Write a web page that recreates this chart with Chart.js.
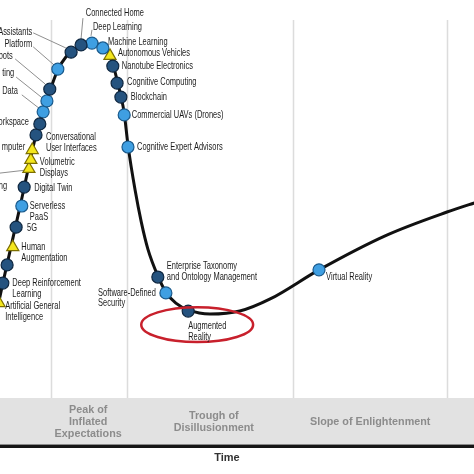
<!DOCTYPE html>
<html><head><meta charset="utf-8">
<script src="https://cdn.jsdelivr.net/npm/chart.js@4/dist/chart.umd.min.js"></script>
<style>html,body{margin:0;padding:0;background:#fff;}canvas{display:block;}</style>
</head><body>
<canvas id="c" width="474" height="474"></canvas>
<script>
// ---- Hype curve (time % vs expectations %) ----
const curveTime   = [-0.8, 0.6, 4.2, 7.6, 9.1, 10.6, 12.2, 13.9, 15.8, 17.7, 19.6, 21.5, 22.8, 23.8, 24.7, 25.5, 26.2, 27.0, 28.5, 29.8, 31.2, 33.3, 35.0, 37.1, 39.7, 44.3, 50.6, 57.0, 67.3, 81.6, 94.3, 101.3];
const curveExpect = [22.2, 30.4, 50.5, 69.6, 75.9, 81.5, 86.8, 90.2, 92.3, 93.7, 93.9, 93.1, 91.5, 88.4, 84.1, 79.9, 75.4, 66.9, 55.0, 46.6, 39.4, 32.3, 28.0, 25.1, 23.3, 22.2, 23.0, 26.2, 33.9, 43.1, 49.2, 52.1];

// ---- Technologies (dark = one group, light = another, triangles = third) ----
const darkNames  = ["Deep Reinforcement Learning", "(unlabeled)", "5G", "Digital Twin", "Conversational User Interfaces", "Workspace", "bots", "Assistants", "Connected Home", "Nanotube Electronics", "Cognitive Computing", "Blockchain", "Enterprise Taxonomy and Ontology Management", "Augmented Reality"];
const darkTime   = [0.6, 1.5, 3.4, 5.1, 7.6, 8.4, 10.5, 15.0, 17.1, 23.8, 24.7, 25.5, 33.3, 39.7];
const darkExpect = [30.4, 35.2, 45.2, 55.8, 69.6, 72.5, 81.7, 91.5, 93.4, 87.8, 83.3, 79.6, 32.0, 23.0];

const lightNames  = ["Serverless PaaS", "Data", "ting", "Platform", "Deep Learning", "Machine Learning", "Commercial UAVs (Drones)", "Cognitive Expert Advisors", "Software-Defined Security", "Virtual Reality"];
const lightTime   = [4.6, 9.1, 9.9, 12.2, 19.4, 21.7, 26.2, 27.0, 35.0, 67.3];
const lightExpect = [50.8, 75.7, 78.6, 87.0, 93.9, 92.6, 74.9, 66.4, 27.8, 33.9];

const triNames  = ["Artificial General Intelligence", "Human Augmentation", "ng", "Volumetric Displays", "mputer", "Autonomous Vehicles"];
const triTime   = [-0.2, 2.7, 6.1, 6.5, 6.8, 23.2];
const triExpect = [25.1, 39.9, 60.6, 63.0, 65.6, 90.5];

// ---- Phases (x-axis bands) ----
const phaseBounds  = [10.8, 26.8, 61.8, 94.3];
const phaseNames   = [["Peak of", "Inflated", "Expectations"], ["Trough of", "Disillusionment"], ["Slope of Enlightenment"]];
const phaseCenters = [18.6, 45.1, 78.1];
const axisTitle = "Time";

// ---- Annotation layout (in data units) ----
const labelLayout = [
  {t:["Connected Home"], x:18.1, y:101.9},
  {t:["Deep Learning"], x:19.6, y:98.1},
  {t:["Machine Learning"], x:22.8, y:94.2},
  {t:["Autonomous Vehicles"], x:24.9, y:91.3},
  {t:["Nanotube Electronics"], x:25.7, y:87.8},
  {t:["Cognitive Computing"], x:26.8, y:83.6},
  {t:["Blockchain"], x:27.6, y:79.6},
  {t:["Commercial UAVs (Drones)"], x:27.8, y:74.9},
  {t:["Cognitive Expert Advisors"], x:28.9, y:66.4},
  {t:["Conversational","User Interfaces"], x:9.7, y:69.0},
  {t:["Volumetric","Displays"], x:8.4, y:62.4},
  {t:["Digital Twin"], x:7.2, y:55.6},
  {t:["Serverless","PaaS"], x:6.3, y:50.8},
  {t:["5G"], x:5.7, y:45.0},
  {t:["Human","Augmentation"], x:4.5, y:39.9},
  {t:["Deep Reinforcement","Learning"], x:2.6, y:30.4},
  {t:["Artificial General","Intelligence"], x:1.1, y:24.3},
  {t:["Enterprise Taxonomy","and Ontology Management"], x:35.2, y:34.9},
  {t:["Software-Defined","Security"], x:20.7, y:27.8},
  {t:["Augmented","Reality"], x:39.7, y:19.0},
  {t:["Virtual Reality"], x:68.8, y:32.0},
  {t:["Assistants"], x:6.8, y:96.8, a:"right"},
  {t:["Platform"], x:6.8, y:93.7, a:"right"},
  {t:["bots"], x:2.7, y:90.5, a:"right"},
  {t:["ting"], x:3.0, y:86.0, a:"right"},
  {t:["Data"], x:3.8, y:81.2, a:"right"},
  {t:["Workspace"], x:6.1, y:73.0, a:"right"},
  {t:["mputer"], x:5.3, y:66.4, a:"right"},
  {t:["ng"], x:1.5, y:56.1, a:"right"}
];
const leaderLines = [
  [17.5,100.5,17.1,95.0],[19.4,97.4,19.2,95.8],[7.0,96.6,13.9,92.6],[7.0,92.9,11.4,88.1],
  [3.2,89.7,9.5,83.1],[3.4,84.9,8.9,79.4],[4.6,80.2,8.2,76.7],[0,59.5,5.5,60.3]
];
const highlight = {x:41.6, y:19.4, rx:11.8, ry:4.6};

const zip = (xs, ys) => xs.map((x, i) => ({x, y: ys[i]}));
const FONT = '"Liberation Sans", Arial, sans-serif';
const SQUEEZE = 0.68;
function sq(ctx, text, x, y, f) {
  const w = ctx.measureText(text).width;
  ctx.fillText(text, x, y, w * (f || SQUEEZE));
}

const hypePlugin = {
  id: 'hype',
  beforeDraw(chart) {
    const {ctx, chartArea: ca, width} = chart;
    const xs = chart.scales.x;
    ctx.save();
    ctx.fillStyle = '#fff';
    ctx.fillRect(0, 0, width, chart.height);
    // band
    ctx.fillStyle = '#e2e2e2';
    ctx.fillRect(0, ca.bottom, width, 46);
    ctx.fillStyle = '#161616';
    ctx.fillRect(0, ca.bottom + 46.5, width, 3.5);
    ctx.fillStyle = '#8c8c8c';
    ctx.font = 'bold 11px ' + FONT;
    ctx.textAlign = 'center';
    ctx.textBaseline = 'middle';
    phaseNames.forEach((lines, i) => {
      const cx = xs.getPixelForValue(phaseCenters[i]);
      const mid = ca.bottom + 24;
      const lh = 12;
      lines.forEach((ln, j) => {
        sq(ctx, ln, cx, mid + (j - (lines.length - 1) / 2) * lh, 0.98);
      });
    });
    ctx.fillStyle = '#333';
    ctx.font = 'bold 11px ' + FONT;
    ctx.fillText(axisTitle, (ca.left + ca.right) / 2 - 10, ca.bottom + 60);
    ctx.restore();
  },
  beforeDatasetsDraw(chart) {
    const {ctx, chartArea: ca} = chart;
    const xs = chart.scales.x, ys = chart.scales.y;
    ctx.save();
    ctx.strokeStyle = '#dcdcdc';
    ctx.lineWidth = 1.5;
    phaseBounds.forEach(b => {
      const px = Math.round(xs.getPixelForValue(b)) + 0.5;
      ctx.beginPath(); ctx.moveTo(px, ca.top); ctx.lineTo(px, ca.bottom); ctx.stroke();
    });
    ctx.strokeStyle = '#8f8f8f';
    ctx.lineWidth = 1;
    leaderLines.forEach(l => {
      ctx.beginPath();
      ctx.moveTo(xs.getPixelForValue(l[0]), ys.getPixelForValue(l[1]));
      ctx.lineTo(xs.getPixelForValue(l[2]), ys.getPixelForValue(l[3]));
      ctx.stroke();
    });
    ctx.restore();
  },
  afterDatasetsDraw(chart) {
    const {ctx} = chart;
    const xs = chart.scales.x, ys = chart.scales.y;
    ctx.save();
    // red highlight ellipse
    const cx = xs.getPixelForValue(highlight.x), cy = ys.getPixelForValue(highlight.y);
    const rx = xs.getPixelForValue(highlight.x + highlight.rx) - cx;
    const ry = cy - ys.getPixelForValue(highlight.y + highlight.ry);
    ctx.strokeStyle = '#c8202c';
    ctx.lineWidth = 2.5;
    ctx.beginPath(); ctx.ellipse(cx, cy, rx, ry, 0, 0, Math.PI * 2); ctx.stroke();
    // labels
    ctx.fillStyle = '#1c1c1c';
    ctx.font = '11px ' + FONT;
    ctx.textBaseline = 'middle';
    labelLayout.forEach(L => {
      ctx.textAlign = L.a || 'left';
      const px = xs.getPixelForValue(L.x), py = ys.getPixelForValue(L.y);
      L.t.forEach((ln, j) => sq(ctx, ln, px, py + j * 10.5));
    });
    ctx.restore();
  }
};

const markerBase = {showLine: false, clip: false, borderWidth: 1.2, order: 1};
new Chart(document.getElementById('c'), {
  type: 'scatter',
  data: {
    datasets: [
      {label: 'Hype Cycle', data: zip(curveTime, curveExpect), showLine: true, borderColor: '#111', borderWidth: 3,
       pointRadius: 0, cubicInterpolationMode: 'monotone', capBezierPoints: false, fill: false, clip: false, order: 5},
      Object.assign({label: 'Group A', data: zip(darkTime, darkExpect), pointStyle: 'circle', pointRadius: 6,
       backgroundColor: '#25537f', borderColor: '#0f2740'}, markerBase),
      Object.assign({label: 'Group B', data: zip(lightTime, lightExpect), pointStyle: 'circle', pointRadius: 6,
       backgroundColor: '#3f9fe2', borderColor: '#1a5a8c'}, markerBase),
      Object.assign({label: 'Group C', data: zip(triTime, triExpect), pointStyle: 'triangle', pointRadius: 7,
       backgroundColor: '#f4e61c', borderColor: '#7d6f00'}, markerBase)
    ]
  },
  options: {
    responsive: false, animation: false, events: [],
    layout: {autoPadding: false, padding: {top: 20, bottom: 76, left: 0, right: 0}},
    scales: {
      x: {type: 'linear', min: 0, max: 100, display: false},
      y: {type: 'linear', min: 0, max: 100, display: false}
    },
    plugins: {legend: {display: false}, tooltip: {enabled: false}}
  },
  plugins: [hypePlugin]
});
</script>
</body></html>
